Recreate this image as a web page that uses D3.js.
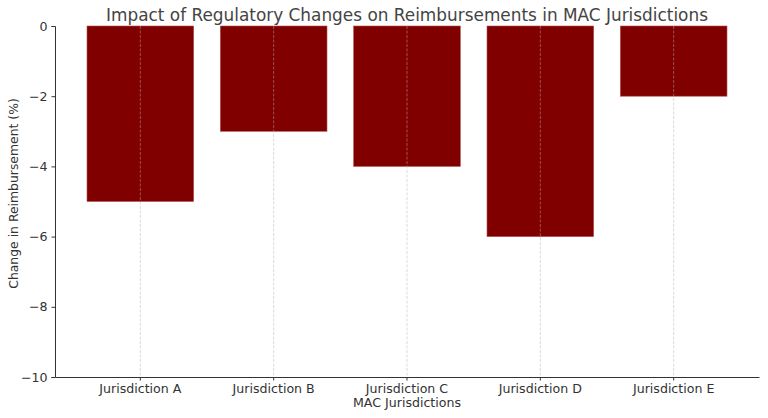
<!DOCTYPE html>
<html>
  <head>
    <meta charset="UTF-8" />
    <style>
      body { margin: 0; background: #fff; }
      text { font-family: "DejaVu Sans", sans-serif; }
    </style>
  </head>
  <body>
    <svg></svg>
    <script src="https://d3js.org/d3.v7.min.js"></script>
    <script>
      let width = 768,
        height = 418;

      // data
      const jurisdictions = ["Jurisdiction A", "Jurisdiction B", "Jurisdiction C", "Jurisdiction D", "Jurisdiction E"];
      const changes = [-5, -3, -4, -6, -2];
      const yTicks = [0, -2, -4, -6, -8, -10];

      let margin = { top: 26, right: 9, bottom: 41, left: 55 };

      let svg = d3.select("svg").attr("width", width).attr("height", height);

      let x = d3
        .scaleBand()
        .domain(jurisdictions)
        .range([margin.left, width - margin.right])
        .paddingInner(0.2)
        .paddingOuter(0.24);

      let y = d3
        .scaleLinear()
        .domain([-10, 0])
        .range([height - margin.bottom, margin.top]);

      let fmt = (d) => (d < 0 ? "\u2212" + Math.abs(d) : "" + d);

      // bars
      svg
        .append("g")
        .selectAll("rect")
        .data(jurisdictions)
        .join("rect")
        .attr("x", (d) => x(d))
        .attr("width", x.bandwidth())
        .attr("y", y(0))
        .attr("height", (d, i) => y(changes[i]) - y(0))
        .attr("fill", "#800000")
        .attr("stroke", "#b05050")
        .attr("stroke-width", 0.6);

      // vertical grid on top of bars
      svg
        .append("g")
        .selectAll("line")
        .data(jurisdictions)
        .join("line")
        .attr("x1", (d) => x(d) + x.bandwidth() / 2)
        .attr("x2", (d) => x(d) + x.bandwidth() / 2)
        .attr("y1", y(0))
        .attr("y2", y(-10))
        .attr("stroke", "#b0b0b0")
        .attr("stroke-opacity", 0.6)
        .attr("stroke-width", 0.8)
        .attr("stroke-dasharray", "3,1.5");

      // y axis
      let yAxis = svg
        .append("g")
        .attr("transform", `translate(${margin.left},0)`)
        .call(d3.axisLeft(y).tickValues(yTicks).tickFormat(fmt).tickSize(3.5).tickPadding(4));
      yAxis.select(".domain").attr("stroke", "#333").attr("stroke-width", 1);
      yAxis.selectAll(".tick line").attr("stroke", "#333");
      yAxis.selectAll("text").attr("fill", "#333").style("font-size", "12.6px");

      // x axis
      let xAxis = svg
        .append("g")
        .attr("transform", `translate(0,${height - margin.bottom})`)
        .call(d3.axisBottom(x).tickSize(3.5).tickPadding(3.5).tickSizeOuter(0));
      xAxis.select(".domain").attr("stroke", "#333").attr("stroke-width", 1);
      xAxis.selectAll(".tick line").attr("stroke", "#333");
      xAxis.selectAll("text").attr("fill", "#333").style("font-size", "12.6px");

      // title
      svg
        .append("text")
        .attr("x", (margin.left + width - margin.right) / 2)
        .attr("y", 21)
        .attr("text-anchor", "middle")
        .attr("fill", "#444")
        .style("font-size", "16.9px")
        .text("Impact of Regulatory Changes on Reimbursements in MAC Jurisdictions");

      // axis labels
      svg
        .append("text")
        .attr("x", (margin.left + width - margin.right) / 2)
        .attr("y", 407)
        .attr("text-anchor", "middle")
        .attr("fill", "#333")
        .style("font-size", "12.6px")
        .text("MAC Jurisdictions");

      svg
        .append("text")
        .attr("transform", `translate(18,${(y(0) + y(-10)) / 2 - 8}) rotate(-90)`)
        .attr("text-anchor", "middle")
        .attr("fill", "#333")
        .style("font-size", "12.4px")
        .text("Change in Reimbursement (%)");
    </script>
  </body>
</html>
